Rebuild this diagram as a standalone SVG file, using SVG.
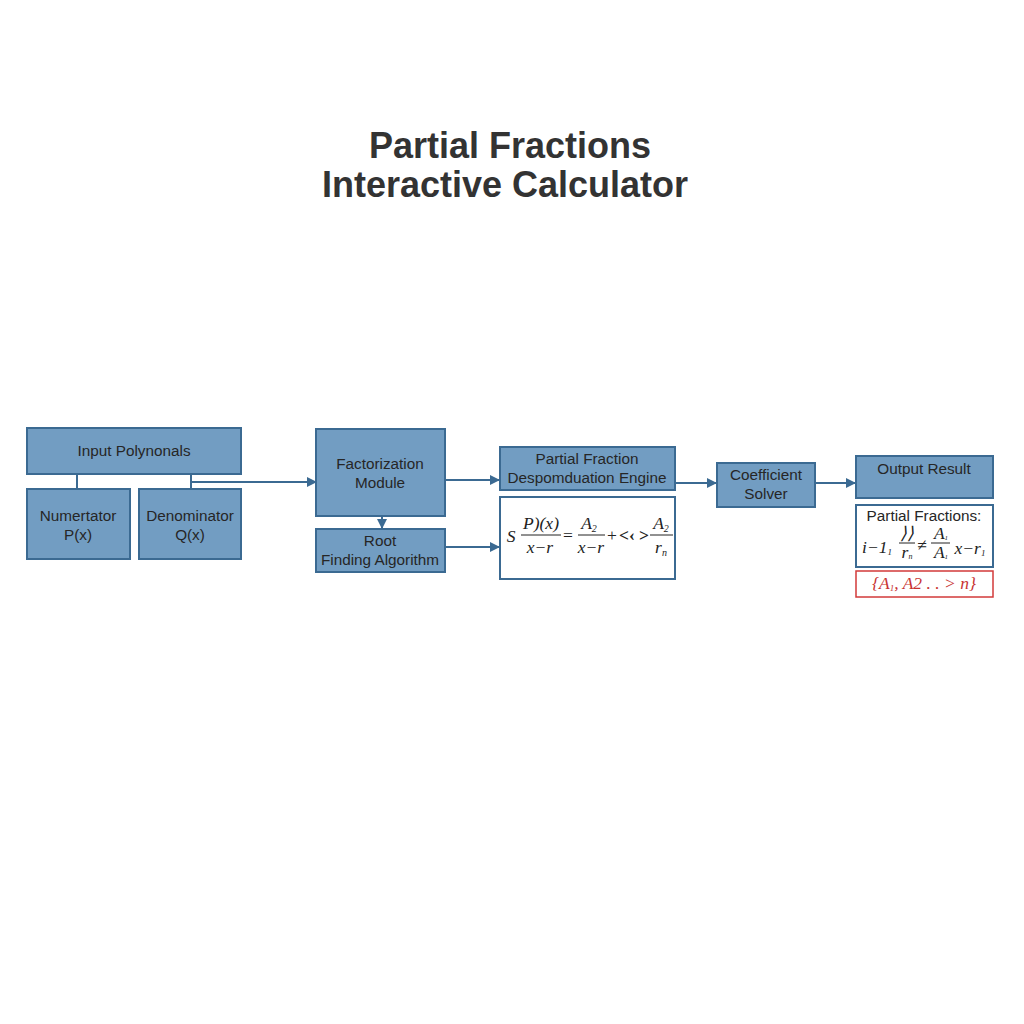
<svg xmlns="http://www.w3.org/2000/svg" width="1024" height="1024" viewBox="0 0 1024 1024">
<style>
.box{fill:#729dc2;stroke:#3b6a92;stroke-width:2}
.wbox{fill:#ffffff;stroke:#3b6a92;stroke-width:2}
.rbox{fill:#ffffff;stroke:#d23a3a;stroke-width:1.5}
.lbl{font-family:"Liberation Sans",Arial,sans-serif;font-size:15.3px;fill:#262626;text-anchor:middle}
.title{font-family:"Liberation Sans",Arial,sans-serif;font-size:36px;font-weight:bold;fill:#333;text-anchor:middle}
.m{font-family:"Liberation Serif","Times New Roman",serif;font-style:italic;font-size:17.5px;fill:#222;text-anchor:middle}
.mr{font-family:"Liberation Serif","Times New Roman",serif;font-size:17.5px;fill:#222;text-anchor:middle}
.conn{stroke:#3b6a92;stroke-width:2;fill:none}
.fl{stroke:#222;stroke-width:1}
</style>
<defs>
<marker id="ah" markerWidth="10" markerHeight="10" refX="9" refY="5" orient="auto" markerUnits="userSpaceOnUse">
<path d="M0,0 L10,5 L0,10 Z" fill="#3b6a92"/>
</marker>
</defs>
<rect width="1024" height="1024" fill="#ffffff"/>
<g id="title">
<text class="title" x="510" y="158">Partial Fractions</text>
<text class="title" x="505" y="197">Interactive Calculator</text>
</g>
<g id="connectors">
<line class="conn" x1="77" y1="474" x2="77" y2="489"/>
<line class="conn" x1="191" y1="474" x2="191" y2="489"/>
<polyline class="conn" points="191,482 316,482" marker-end="url(#ah)"/>
<line class="conn" x1="382" y1="516" x2="382" y2="528" marker-end="url(#ah)"/>
<line class="conn" x1="445" y1="480" x2="499" y2="480" marker-end="url(#ah)"/>
<line class="conn" x1="445" y1="547" x2="499" y2="547" marker-end="url(#ah)"/>
<line class="conn" x1="675" y1="483" x2="716" y2="483" marker-end="url(#ah)"/>
<line class="conn" x1="815" y1="483" x2="855" y2="483" marker-end="url(#ah)"/>
</g>
<g id="input">
<rect class="box" x="27" y="428" width="214" height="46"/>
<text class="lbl" x="134" y="456">Input Polynonals</text>
</g>
<g id="numerator">
<rect class="box" x="27" y="489" width="103" height="70"/>
<text class="lbl" x="78" y="521">Numertator</text>
<text class="lbl" x="78" y="540">P(x)</text>
</g>
<g id="denominator">
<rect class="box" x="139" y="489" width="102" height="70"/>
<text class="lbl" x="190" y="521">Denominator</text>
<text class="lbl" x="190" y="540">Q(x)</text>
</g>
<g id="factorization">
<rect class="box" x="316" y="429" width="129" height="87"/>
<text class="lbl" x="380" y="469">Factorization</text>
<text class="lbl" x="380" y="488">Module</text>
</g>
<g id="root">
<rect class="box" x="316" y="529" width="129" height="43"/>
<text class="lbl" x="380" y="546">Root</text>
<text class="lbl" x="380" y="565">Finding Algorithm</text>
</g>
<g id="engine">
<rect class="box" x="500" y="447" width="175" height="43"/>
<text class="lbl" x="587" y="464">Partial Fraction</text>
<text class="lbl" x="587" y="483">Despomduation Engine</text>
</g>
<g id="formula">
<rect class="wbox" x="500" y="497" width="175" height="82"/>
<text class="m" x="511" y="542">S</text>
<text class="m" x="541" y="529">P)(x)</text>
<line class="fl" x1="521" y1="535" x2="561" y2="535"/>
<text class="m" x="540" y="553">x−r</text>
<text class="mr" x="568" y="541">=</text>
<text class="m" x="589" y="529">A<tspan font-size="10" dy="3">2</tspan></text>
<line class="fl" x1="578" y1="535" x2="605" y2="535"/>
<text class="m" x="591" y="553">x−r</text>
<text class="mr" x="612" y="541">+</text>
<text class="mr" x="634" y="541" font-weight="bold">&lt;‹ &gt;</text>
<text class="m" x="661" y="529">A<tspan font-size="10" dy="3">2</tspan></text>
<line class="fl" x1="650" y1="535" x2="673" y2="535"/>
<text class="m" x="661" y="553">r<tspan font-size="10" dy="3">n</tspan></text>
</g>
<g id="coefficient">
<rect class="box" x="717" y="463" width="98" height="44"/>
<text class="lbl" x="766" y="480">Coefficient</text>
<text class="lbl" x="766" y="499">Solver</text>
</g>
<g id="output">
<rect class="box" x="856" y="456" width="137" height="42"/>
<text class="lbl" x="924" y="474">Output Result</text>
</g>
<g id="partial-fractions">
<rect class="wbox" x="856" y="505" width="137" height="62"/>
<text class="lbl" x="924" y="521">Partial Fractions:</text>
<text class="m" x="877" y="553" font-size="15">i−1<tspan font-size="9" dy="2">1</tspan></text>
<text class="m" x="907" y="539" font-size="11">⟩⟩</text>
<line class="fl" x1="899" y1="543" x2="915" y2="543"/>
<text class="m" x="907" y="558" font-size="11">r<tspan font-size="8" dy="1">n</tspan></text>
<text class="mr" x="922" y="551" font-size="14">≠</text>
<text class="m" x="941" y="539" font-size="11">A<tspan font-size="7" dy="1">1</tspan></text>
<line class="fl" x1="931" y1="543" x2="950" y2="543"/>
<text class="m" x="941" y="558" font-size="11">A<tspan font-size="7" dy="1">1</tspan></text>
<text class="m" x="970" y="554" font-size="15">x−r<tspan font-size="9" dy="2">1</tspan></text>
</g>
<g id="coeff-set">
<rect class="rbox" x="856" y="571" width="137" height="26"/>
<text class="m" x="924" y="589" font-size="15" style="fill:#c83232">{A<tspan font-size="9" dy="2">1</tspan><tspan dy="-2">, A2 . . &gt; n}</tspan></text>
</g>
</svg>
